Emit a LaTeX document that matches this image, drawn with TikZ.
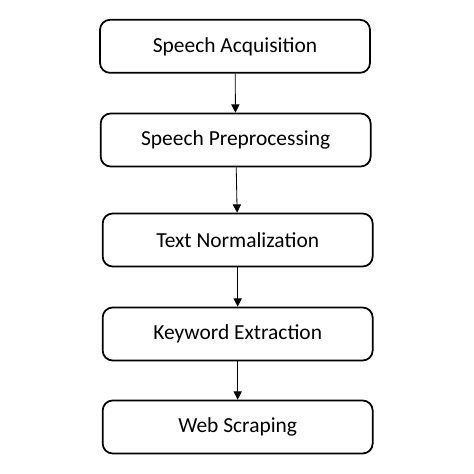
\documentclass[tikz,border=0pt]{standalone}
\usepackage{fontspec}
\setmainfont{Carlito}
\usetikzlibrary{arrows.meta}

\tikzset{
    blocco/.style={draw, line width=1.5pt, rounded corners=0.3cm, minimum width=8.1cm, minimum height=1.59cm, font=\fontsize{18.3}{22}\selectfont},
    freccia/.style={-{Triangle[length=7pt,width=7pt]}, line width=0.7pt}
}

\begin{document}
\begin{tikzpicture}
        \useasboundingbox (0,0) rectangle (14.22,14.22);
        %%%%%%%%%% Nodi %%%%%%%%%%
        \node[blocco] (acq) at (7.05,12.83) {Speech Acquisition};
        \node[blocco] (pre) at (7.07,10.02) {Speech Preprocessing};
        \node[blocco] (norm) at (7.13,7.02) {Text Normalization};
        \node[blocco] (kw) at (7.13,4.20) {Keyword Extraction};
        \node[blocco] (web) at (7.13,1.41) {Web Scraping};

        %%%%%%%%% Frecce %%%%%%%%%
        \draw[freccia] (acq) -- (pre);
        \draw[freccia] (pre) -- (norm);
        \draw[freccia] (norm) -- (kw);
        \draw[freccia] (kw) -- (web);
    \end{tikzpicture}
\end{document}
